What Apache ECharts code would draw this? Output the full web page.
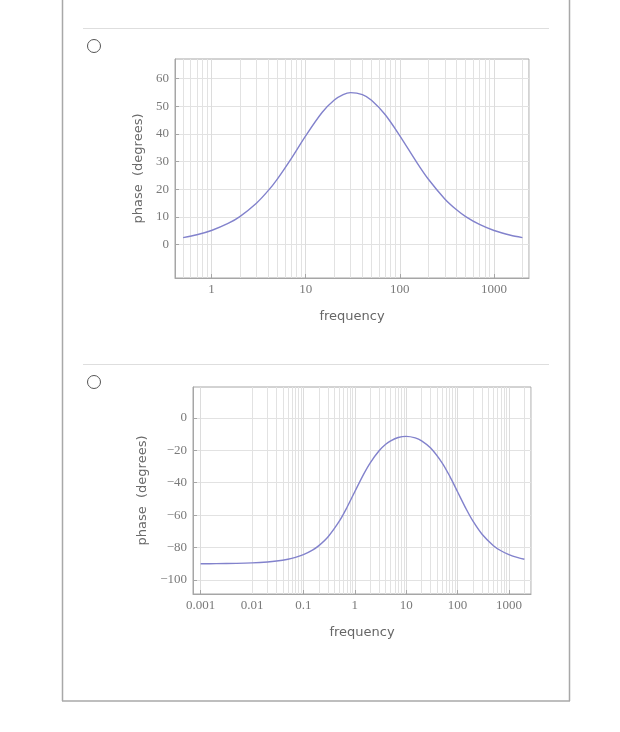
<!DOCTYPE html>
<html>
<head>
<meta charset="utf-8">
<script src="https://cdn.jsdelivr.net/npm/echarts@6/dist/echarts.min.js"></script>
<style>
html,body{margin:0;padding:0;background:#fff;}
#main{width:620px;height:732px;}
</style>
</head>
<body>
<div id="main"></div>
<script>
// chart 1 (upper option)
var freq1 = [0.5, 0.7, 1, 1.5, 2, 3, 4, 5, 7, 10, 15, 20, 25, 30, 40, 50, 70, 100, 150, 200, 300, 400, 500, 700, 1000, 1500, 2000];
var phase1 = [2.58, 3.60, 5.14, 7.67, 10.16, 14.98, 19.51, 23.70, 30.99, 39.29, 47.78, 52.13, 54.16, 54.87, 54.16, 52.13, 46.88, 39.29, 29.88, 23.70, 16.53, 12.60, 10.16, 7.31, 5.14, 3.43, 2.58];
var yTicks1 = [0, 10, 20, 30, 40, 50, 60];

// chart 2 (lower option)
var freq2 = [0.001, 0.002, 0.005, 0.01, 0.02, 0.03, 0.05, 0.07, 0.1, 0.15, 0.2, 0.3, 0.5, 0.7, 1, 1.5, 2, 3, 4, 5, 7, 10, 15, 20, 30, 50, 70, 100, 150, 200, 300, 500, 700, 1000, 1500, 2000];
var phase2 = [-89.94, -89.89, -89.72, -89.43, -88.87, -88.30, -87.17, -86.04, -84.35, -81.56, -78.80, -73.47, -63.72, -55.41, -45.57, -34.55, -27.71, -20.15, -16.33, -14.17, -12.13, -11.42, -12.35, -14.17, -18.61, -27.71, -35.81, -45.57, -56.69, -63.72, -71.76, -78.80, -81.95, -84.35, -86.22, -87.17];
var yTicks2 = [0, -20, -40, -60, -80, -100];

var lineColor = '#8282cc';
var gridColor = '#e2e2e2';
var frameColor = '#a6a6a6';
var labelColor = '#7a7a7a';

// light vertical lines at 2..9 of each decade
function minorLines(lo, hi) {
    var out = [];
    for (var e = -4; e <= 4; e++) {
        for (var k = 2; k <= 9; k++) {
            var v = k * Math.pow(10, e);
            if (v >= lo && v <= hi) out.push({xAxis: v});
        }
    }
    return out;
}

function fmtX(v) {
    return String(+(+v).toPrecision(3));
}
function fmtY(v) {
    return v < 0 ? '\u2212' + Math.abs(v) : String(v);
}

function pairs(xs, ys) {
    return xs.map(function (x, i) { return [x, ys[i]]; });
}

var labelFont = {color: labelColor, fontFamily: 'Liberation Serif', fontSize: 13};

function xAx(idx, min, max, split) {
    return {
        type: 'log', gridIndex: idx, min: min, max: max, splitNumber: split,
        axisLine: {show: true, onZero: false, lineStyle: {color: frameColor}},
        axisTick: {show: true, inside: true, length: 4, lineStyle: {color: frameColor}},
        axisLabel: Object.assign({margin: 5, formatter: fmtX, showMinLabel: false, showMaxLabel: false}, labelFont),
        splitLine: {show: true, lineStyle: {color: '#dcdcdc'}},
        name: 'frequency', nameLocation: 'middle', nameGap: 32,
        nameTextStyle: {color: '#666', fontFamily: 'DejaVu Sans', fontSize: 13}
    };
}

function yAx(idx, min, max, ticks, gap) {
    return {
        type: 'value', gridIndex: idx, min: min, max: max,
        axisLine: {show: true, onZero: false, lineStyle: {color: frameColor}},
        axisTick: {show: true, inside: true, length: 4, customValues: ticks, lineStyle: {color: frameColor}},
        axisLabel: Object.assign({margin: 6, customValues: ticks, formatter: fmtY}, labelFont),
        splitLine: {show: true, lineStyle: {color: gridColor}},
        name: 'phase  (degrees)', nameLocation: 'middle', nameGap: gap,
        nameTextStyle: {color: '#6a6a6a', fontFamily: 'DejaVu Sans', fontSize: 13}
    };
}

function curve(idx, data, lo, hi) {
    return {
        type: 'line', xAxisIndex: idx, yAxisIndex: idx,
        data: data, smooth: 0.3, symbol: 'none', silent: true,
        lineStyle: {color: lineColor, width: 1.4},
        z: 5,
        markLine: {
            silent: true, symbol: 'none', animation: false,
            label: {show: false},
            lineStyle: {color: gridColor, type: 'solid', width: 1},
            data: minorLines(lo, hi),
            z: 1
        }
    };
}

var myChart = echarts.init(document.getElementById('main'));
var option = {
    animation: false,
    backgroundColor: '#fff',
    grid: [
        {left: 175, top: 59, width: 354, height: 219, show: true, borderColor: frameColor, borderWidth: 1},
        {left: 193, top: 387, width: 338, height: 207, show: true, borderColor: frameColor, borderWidth: 1}
    ],
    xAxis: [
        xAx(0, 0.41, 2350, 5),
        xAx(1, 0.00071, 2690, 7)
    ],
    yAxis: [
        yAx(0, -12, 67, yTicks1, 25),
        yAx(1, -108.6, 19, yTicks2, 42)
    ],
    series: [
        curve(0, pairs(freq1, phase1), 0.41, 2350),
        curve(1, pairs(freq2, phase2), 0.00071, 2690)
    ],
    graphic: [
        {type: 'line', shape: {x1: 62.5, y1: 0, x2: 62.5, y2: 701}, style: {stroke: '#a8a8a8', lineWidth: 1.5}},
        {type: 'line', shape: {x1: 569.5, y1: 0, x2: 569.5, y2: 701}, style: {stroke: '#a8a8a8', lineWidth: 1.5}},
        {type: 'line', shape: {x1: 62, y1: 701, x2: 570, y2: 701}, style: {stroke: '#a8a8a8', lineWidth: 1.5}},
        {type: 'line', shape: {x1: 83, y1: 28.5, x2: 549, y2: 28.5}, style: {stroke: '#dedede', lineWidth: 1}},
        {type: 'line', shape: {x1: 83, y1: 364.5, x2: 549, y2: 364.5}, style: {stroke: '#dedede', lineWidth: 1}},
        {type: 'circle', shape: {cx: 94, cy: 46, r: 6.5}, style: {fill: '#fff', stroke: '#555', lineWidth: 1}},
        {type: 'circle', shape: {cx: 94, cy: 382, r: 6.5}, style: {fill: '#fff', stroke: '#555', lineWidth: 1}}
    ]
};
myChart.setOption(option);
window.onresize = myChart.resize;
</script>
</body>
</html>
